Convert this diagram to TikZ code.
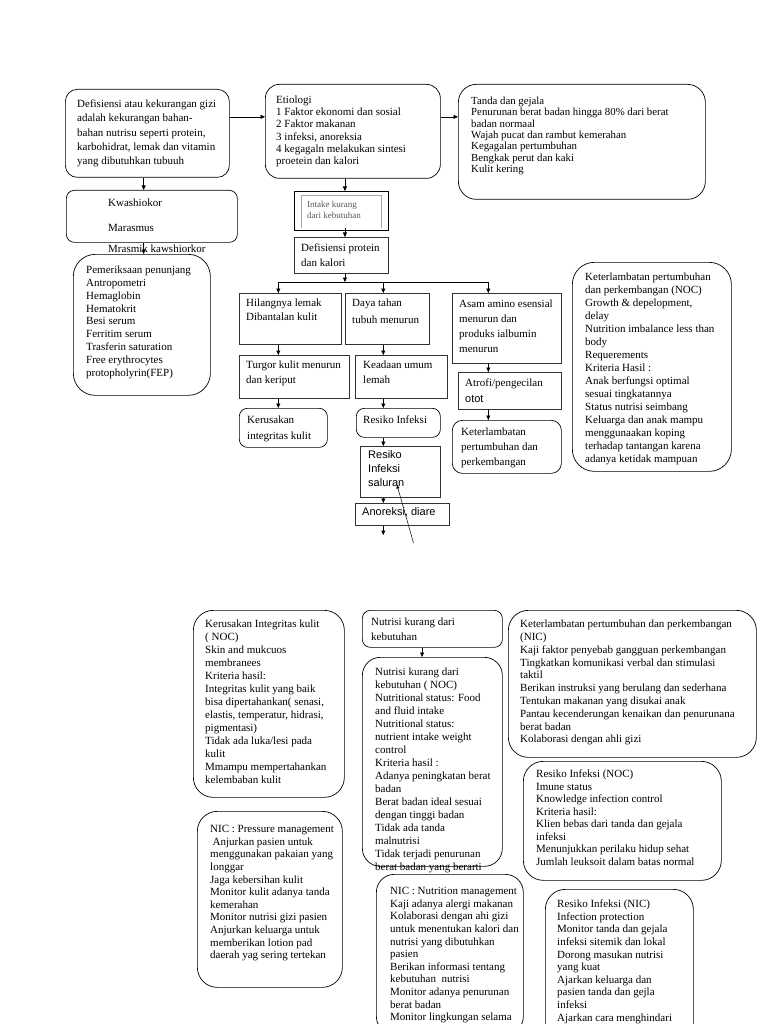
\documentclass[tikz,border=0pt]{standalone}
\usepackage{fontspec}
\setmainfont{Liberation Serif}
\setsansfont{Liberation Sans}
\usetikzlibrary{arrows.meta}
\tikzset{
  rbox/.style={draw=black, line width=0.7pt, rounded corners=#1, inner sep=0pt, anchor=north west},
  rbox/.default=12,
  sbox/.style={draw=black!80, line width=0.85pt, inner sep=0pt, anchor=north west},
  txt/.style={anchor=north west, inner sep=0pt, align=left, font=\fontsize{11}{#1}\selectfont},
  txt/.default=13,
  arr/.style={line width=0.6pt, -{Triangle[length=4.5pt,width=4pt]}},
  thinarr/.style={line width=0.5pt, -{Triangle[length=3.5pt,width=3pt]}},
  innerf/.style={draw=gray!70, line width=0.6pt}
}
\begin{document}
\begin{tikzpicture}[x=1pt,y=-1pt]
\fill[white] (0,0) rectangle (768,1024);
\useasboundingbox (0,0) rectangle (768,1024);

% ---------- boxes ----------
\node[rbox=12, minimum width=164, minimum height=88] (A) at (65,89) {};
\node[rbox=14, minimum width=175, minimum height=94] (Et) at (265,84) {};
\node[rbox=18, minimum width=247, minimum height=115] (Tanda) at (458,84) {};
\node[rbox=8, minimum width=171, minimum height=52] (Kw) at (66,190) {};
\node[rbox=22, minimum width=137, minimum height=141] (Pem) at (73,254) {};
\node[sbox, draw=black, minimum width=94, minimum height=39] (Intake) at (294,191) {};
\node[sbox, minimum width=94, minimum height=36] (Def) at (294,237) {};
\node[sbox, minimum width=102, minimum height=51] (Hil) at (239,293) {};
\node[sbox, minimum width=84, minimum height=51] (Daya) at (345,293) {};
\node[sbox, minimum width=109, minimum height=70] (Asam) at (452,293) {};
\node[sbox, minimum width=110, minimum height=43] (Tur) at (239,355) {};
\node[sbox, minimum width=92, minimum height=43] (Kead) at (355,355) {};
\node[sbox, minimum width=103, minimum height=37] (Atr) at (458,372) {};
\node[rbox=8, minimum width=88, minimum height=39] (Ker) at (239,408) {};
\node[rbox=8, minimum width=84, minimum height=29] (Res) at (356,408) {};
\node[rbox=10, minimum width=109, minimum height=53] (KetS) at (452,420) {};
\node[sbox, minimum width=80, minimum height=51] (Sal) at (360,446) {};
\node[sbox, minimum width=94, minimum height=22] (Ano) at (355,503) {};
\node[rbox=22, minimum width=159, minimum height=209] (NocR) at (572,262) {};
\node[rbox=20, minimum width=151, minimum height=187] (KerNoc) at (193,610) {};
\node[rbox=20, minimum width=145, minimum height=176] (NicP) at (197,811) {};
\node[rbox=8, minimum width=140, minimum height=37] (NutS) at (362,610) {};
\node[rbox=18, minimum width=140, minimum height=209] (NutNoc) at (362,657) {};
\node[rbox=18, minimum width=147, minimum height=160] (NicN) at (376,874) {};
\node[rbox=20, minimum width=248, minimum height=147] (KetNic) at (508,610) {};
\node[rbox=20, minimum width=198, minimum height=119] (ResNoc) at (523,761) {};
\node[rbox=20, minimum width=148, minimum height=155] (ResNic) at (545,889) {};

% inner frame of the intake box
\draw[innerf] ([shift={(7.7pt,3.3pt)}]Intake.south west) -- ([shift={(7.7pt,-4pt)}]Intake.north west)
  -- ([shift={(-8pt,-4pt)}]Intake.north east) -- ([shift={(-8pt,3.3pt)}]Intake.south east);

% ---------- texts ----------
\node[txt=14.2] (At) at (77,97.6) {\strut Defisiensi atau kekurangan gizi\\adalah kekurangan bahan-\\bahan nutrisu seperti protein,\\karbohidrat, lemak dan vitamin\\yang dibutuhkan tubuuh};
\node[txt=12.2] (Ett) at (276,94.7) {\strut Etiologi\\1 Faktor ekonomi dan sosial\\2 Faktor makanan\\3 infeksi, anoreksia\\4 kegagaln melakukan sintesi\\proetein dan kalori};
\node[txt=11.4, font=\fontsize{10.8}{11.4}\selectfont] (Tt) at (471,96.2) {\strut Tanda dan gejala\\Penurunan berat badan hingga 80\% dari berat\\badan normaal\\Wajah pucat dan rambut kemerahan\\Kegagalan pertumbuhan\\Bengkak perut dan kaki\\Kulit kering};
\node[txt] (Kw1) at (108,197.1) {\strut Kwashiokor};
\node[txt] (Kw2) at (108,221.9) {\strut Marasmus};
\node[txt] (Kw3) at (108,242.9) {\strut Mrasmik kawshiorkor};
\node[txt=12.8] (Pemt) at (86,264.5) {\strut Pemeriksaan penunjang\\Antropometri\\Hemaglobin\\Hematokrit\\Besi serum\\Ferritim serum\\Trasferin saturation\\Free erythrocytes\\protopholyrin(FEP)};
\node[txt=11.4, font=\fontsize{9}{11.4}\selectfont, text=black!65] (Intt) at (307,199.3) {\strut Intake kurang\\dari kebutuhan};
\node[txt=14.6] (Deft) at (301,241) {\strut Defisiensi protein\\dan kalori};
\node[txt=13.4] (Hilt) at (246,297.4) {\strut Hilangnya lemak\\Dibantalan kulit};
\node[txt=16.7] (Dayat) at (352,295.1) {\strut Daya tahan\\tubuh menurun};
\node[txt=15] (Asamt) at (459,296.3) {\strut Asam amino esensial\\menurun dan\\produks ialbumin\\menurun};
\node[txt=15] (Turt) at (246,358) {\strut Turgor kulit menurun\\dan keriput};
\node[txt=15] (Keadt) at (363,358) {\strut Keadaan umum\\lemah};
\node[txt=15.6] (Atrt) at (465,375.3) {\strut Atrofi/pengecilan\\{\sffamily otot}};
\node[txt=15.7] (Kert) at (247,412.8) {\strut Kerusakan\\integritas kulit};
\node[txt] (Rest) at (363,413.7) {\strut Resiko Infeksi};
\node[txt=14.7] (KetSt) at (461,425.5) {\strut Keterlambatan\\pertumbuhan dan\\perkembangan};
\node[txt=13.7, font=\sffamily\fontsize{11}{13.7}\selectfont] (Salt) at (368,448.9) {\strut Resiko\\Infeksi\\saluran};
\node[txt, font=\sffamily\fontsize{11}{13}\selectfont] (Anot) at (362,506.4) {\strut Anoreksi, diare};
\node[txt] (NocRt) at (585,271.4) {\strut Keterlambatan pertumbuhan\\dan perkembangan (NOC)\\Growth \& depelopment,\\delay\\Nutrition imbalance less than\\body\\Requerements\\Kriteria Hasil :\\Anak berfungsi optimal\\sesuai tingkatannya\\Status nutrisi seimbang\\Keluarga dan anak mampu\\menggunaakan koping\\terhadap tantangan karena\\adanya ketidak mampuan};
\node[txt] (KerNoct) at (205,618.4) {\strut Kerusakan Integritas kulit\\( NOC)\\Skin and mukcuos\\membranees\\Kriteria hasil:\\Integritas kulit yang baik\\bisa dipertahankan( senasi,\\elastis, temperatur, hidrasi,\\pigmentasi)\\Tidak ada luka/lesi pada\\kulit\\Mmampu mempertahankan\\kelembaban kulit};
\node[txt=12.6] (NicPt) at (210,823.7) {\strut NIC : Pressure management\\\hspace*{2.5pt}Anjurkan pasien untuk\\menggunakan pakaian yang\\longgar\\Jaga kebersihan kulit\\Monitor kulit adanya tanda\\kemerahan\\Monitor nutrisi gizi pasien\\Anjurkan keluarga untuk\\memberikan lotion pad\\daerah yag sering tertekan};
\node[txt=15] (NutSt) at (371,615) {\strut Nutrisi kurang dari\\kebutuhan};
\node[txt] (NutNoct) at (375,666.4) {\strut Nutrisi kurang dari\\kebutuhan ( NOC)\\Nutritional status: Food\\and fluid intake\\Nutritional status:\\nutrient intake weight\\control\\Kriteria hasil :\\Adanya peningkatan berat\\badan\\Berat badan ideal sesuai\\dengan tinggi badan\\Tidak ada tanda\\malnutrisi\\Tidak terjadi penurunan\\berat badan yang berarti};
\node[txt=12.6] (NicNt) at (390,885.7) {\strut NIC : Nutrition management\\Kaji adanya alergi makanan\\Kolaborasi dengan ahi gizi\\untuk menentukan kalori dan\\nutrisi yang dibutuhkan\\pasien\\Berikan informasi tentang\\kebutuhan\ \ nutrisi\\Monitor adanya penurunan\\berat badan\\Monitor lingkungan selama};
\node[txt=12.8] (KetNict) at (520,618.5) {\strut Keterlambatan pertumbuhan dan perkembangan\\(NIC)\\Kaji faktor penyebab gangguan perkembangan\\Tingkatkan komunikasi verbal dan stimulasi\\taktil\\Berikan instruksi yang berulang dan sederhana\\Tentukan makanan yang disukai anak\\Pantau kecenderungan kenaikan dan penurunana\\berat badan\\Kolaborasi dengan ahli gizi};
\node[txt=12.5] (ResNoct) at (536,768.75) {\strut Resiko Infeksi (NOC)\\Imune status\\Knowledge infection control\\Kriteria hasil:\\Klien bebas dari tanda dan gejala\\infeksi\\Menunjukkan perilaku hidup sehat\\Jumlah leuksoit dalam batas normal};
\node[txt=12.6] (ResNict) at (557,898.7) {\strut Resiko Infeksi (NIC)\\Infection protection\\Monitor tanda dan gejala\\infeksi sitemik dan lokal\\Dorong masukan nutrisi\\yang kuat\\Ajarkan keluarga dan\\pasien tanda dan gejla\\infeksi\\Ajarkan cara menghindari};

% ---------- connectors ----------
\coordinate (a1) at ([yshift=16.5pt]A.east);
\draw[arr] (a1) -- (a1 -| Et.west);
\draw[arr] (a1 -| Et.east) -- (a1 -| Tanda.west);
\coordinate (a2) at ([xshift=-3.7pt]A.south);
\draw[arr] (a2) -- (a2 |- Kw.north);
\draw[arr] (a2 |- Kw.south) -- (a2 |- Pem.north);
\coordinate (a3) at ([xshift=3.5pt]Intake.north);
\draw[arr] (a3 |- Et.south) -- (a3);
\draw[arr] ([yshift=3pt]a3 |- Intake.south) -- (a3 |- Def.north);
\coordinate (jL) at (278.3,282);
\coordinate (jM) at (383.3,282);
\coordinate (jR) at (488.3,282);
\draw[arr] (a3 |- Def.south) -- (a3 |- jL);
\draw[line width=0.6pt] (jL) -- (jR);
\draw[arr] (jL) -- (jL |- Hil.north);
\draw[arr] (jM) -- (jM |- Daya.north);
\draw[arr] (jR) -- (jR |- Asam.north);
\draw[arr] (jL |- Hil.south) -- (jL |- Tur.north);
\draw[arr] (jL |- Tur.south) -- (jL |- Ker.north);
\draw[arr] (jM |- Daya.south) -- (jM |- Kead.north);
\draw[arr] (jM |- Kead.south) -- (jM |- Res.north);
\draw[arr] (jM |- Res.south) -- (jM |- Sal.north);
\draw[arr] (jM |- Sal.south) -- (jM |- Ano.north);
\coordinate (endA) at (383.3,535);
\draw[arr] (jM |- Ano.south) -- (endA);
\draw[arr] (jR |- Asam.south) -- (jR |- Atr.north);
\draw[arr] (jR |- Atr.south) -- (jR |- KetS.north);
\coordinate (d1) at (413.5,543);
\coordinate (d2) at (397,485);
\draw[thinarr] (d1) -- (d2);
\coordinate (n1) at ([xshift=-10.3pt]NutS.south);
\draw[arr] (n1) -- (n1 |- NutNoc.north);
\end{tikzpicture}
\end{document}
